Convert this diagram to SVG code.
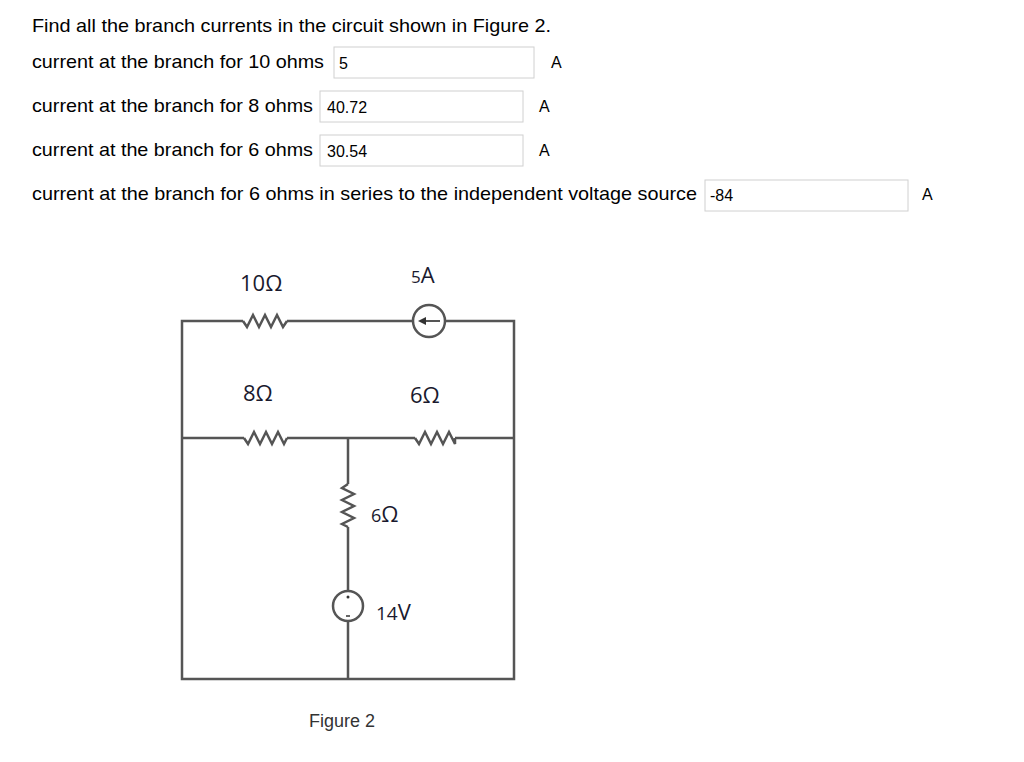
<svg xmlns="http://www.w3.org/2000/svg" width="1024" height="762" viewBox="0 0 1024 762">
<style>
.t{font-family:"Liberation Sans",Arial,sans-serif;font-size:18.5px;fill:#000}
.v{font-family:"Liberation Sans",Arial,sans-serif;font-size:16px;fill:#000}
.in{fill:#fff;stroke:#d0d0d0;stroke-width:1}
.w{fill:none;stroke:#555;stroke-width:2.5}
.c{font-family:"Open Sans","Noto Sans","Liberation Sans",sans-serif;font-size:22px;fill:#1a1a2e}
</style>
<rect width="1024" height="762" fill="#fff"/>
<text class="t" x="32" y="32" textLength="519" lengthAdjust="spacingAndGlyphs">Find all the branch currents in the circuit shown in Figure 2.</text>
<text class="t" x="32" y="68" textLength="292" lengthAdjust="spacingAndGlyphs">current at the branch for 10 ohms</text>
<rect class="in" x="334" y="47" width="200" height="31"/><text class="v" x="339" y="69">5</text><text class="v" x="551" y="68">A</text>
<text class="t" x="32" y="112" textLength="281" lengthAdjust="spacingAndGlyphs">current at the branch for 8 ohms</text>
<rect class="in" x="320" y="91" width="203" height="31"/><text class="v" x="327" y="113">40.72</text><text class="v" x="539" y="112">A</text>
<text class="t" x="32" y="156" textLength="281" lengthAdjust="spacingAndGlyphs">current at the branch for 6 ohms</text>
<rect class="in" x="320" y="135" width="203" height="31"/><text class="v" x="327" y="157">30.54</text><text class="v" x="539" y="156">A</text>
<text class="t" x="32" y="200" textLength="665" lengthAdjust="spacingAndGlyphs">current at the branch for 6 ohms in series to the independent voltage source</text>
<rect class="in" x="705" y="180" width="203" height="31"/><text class="v" x="710" y="201">-84</text><text class="v" x="922" y="200">A</text>
<g id="wires">
<path class="w" d="M243 321 H182 V679 H514 V321 H445 M413 321 H287 M182 438 H244 M287 438 H415 M455 438 H514 M348 438 V484 M348 527 V591 M348 621 V679"/>
</g>
<g id="r10"><path class="w" d="M243 321 l4 6 l6 -12 l6 12 l6 -12 l6 12 l6 -12 l6 12 l4 -6"/><text class="c" x="240" y="291">10Ω</text></g>
<g id="is5"><circle class="w" cx="429" cy="321" r="16"/><path d="M440 321 H422" stroke="#555" stroke-width="2"/><path d="M418 321 l8 -4 v8 z" fill="#333"/><text class="c" x="411" y="283"><tspan font-size="17">5</tspan>A</text></g>
<g id="r8"><path class="w" d="M244 438 l4 6 l6 -12 l6 12 l6 -12 l6 12 l6 -12 l6 12 l3 -6"/><text class="c" x="243" y="401">8Ω</text></g>
<g id="r6a"><path class="w" d="M415 438 l4 6 l6 -12 l6 12 l6 -12 l6 12 l6 -12 l6 12 l0 -6"/><text class="c" x="410" y="403">6Ω</text></g>
<g id="r6b"><path class="w" d="M348 484 l-6 4 l12 6 l-12 6 l12 6 l-12 6 l12 6 l-12 6 l6 3"/><text class="c" x="371" y="522"><tspan font-size="18">6</tspan>Ω</text></g>
<g id="v14"><circle class="w" cx="348" cy="606" r="15"/><circle cx="348" cy="597" r="1.5" fill="#333"/><path d="M346 616 h4" stroke="#333" stroke-width="1.5"/><text class="c" x="376" y="620"><tspan font-size="19">14</tspan>V</text></g>
<text x="309" y="727" font-family="Liberation Sans,Arial,sans-serif" font-size="18" fill="#333">Figure 2</text>
</svg>
